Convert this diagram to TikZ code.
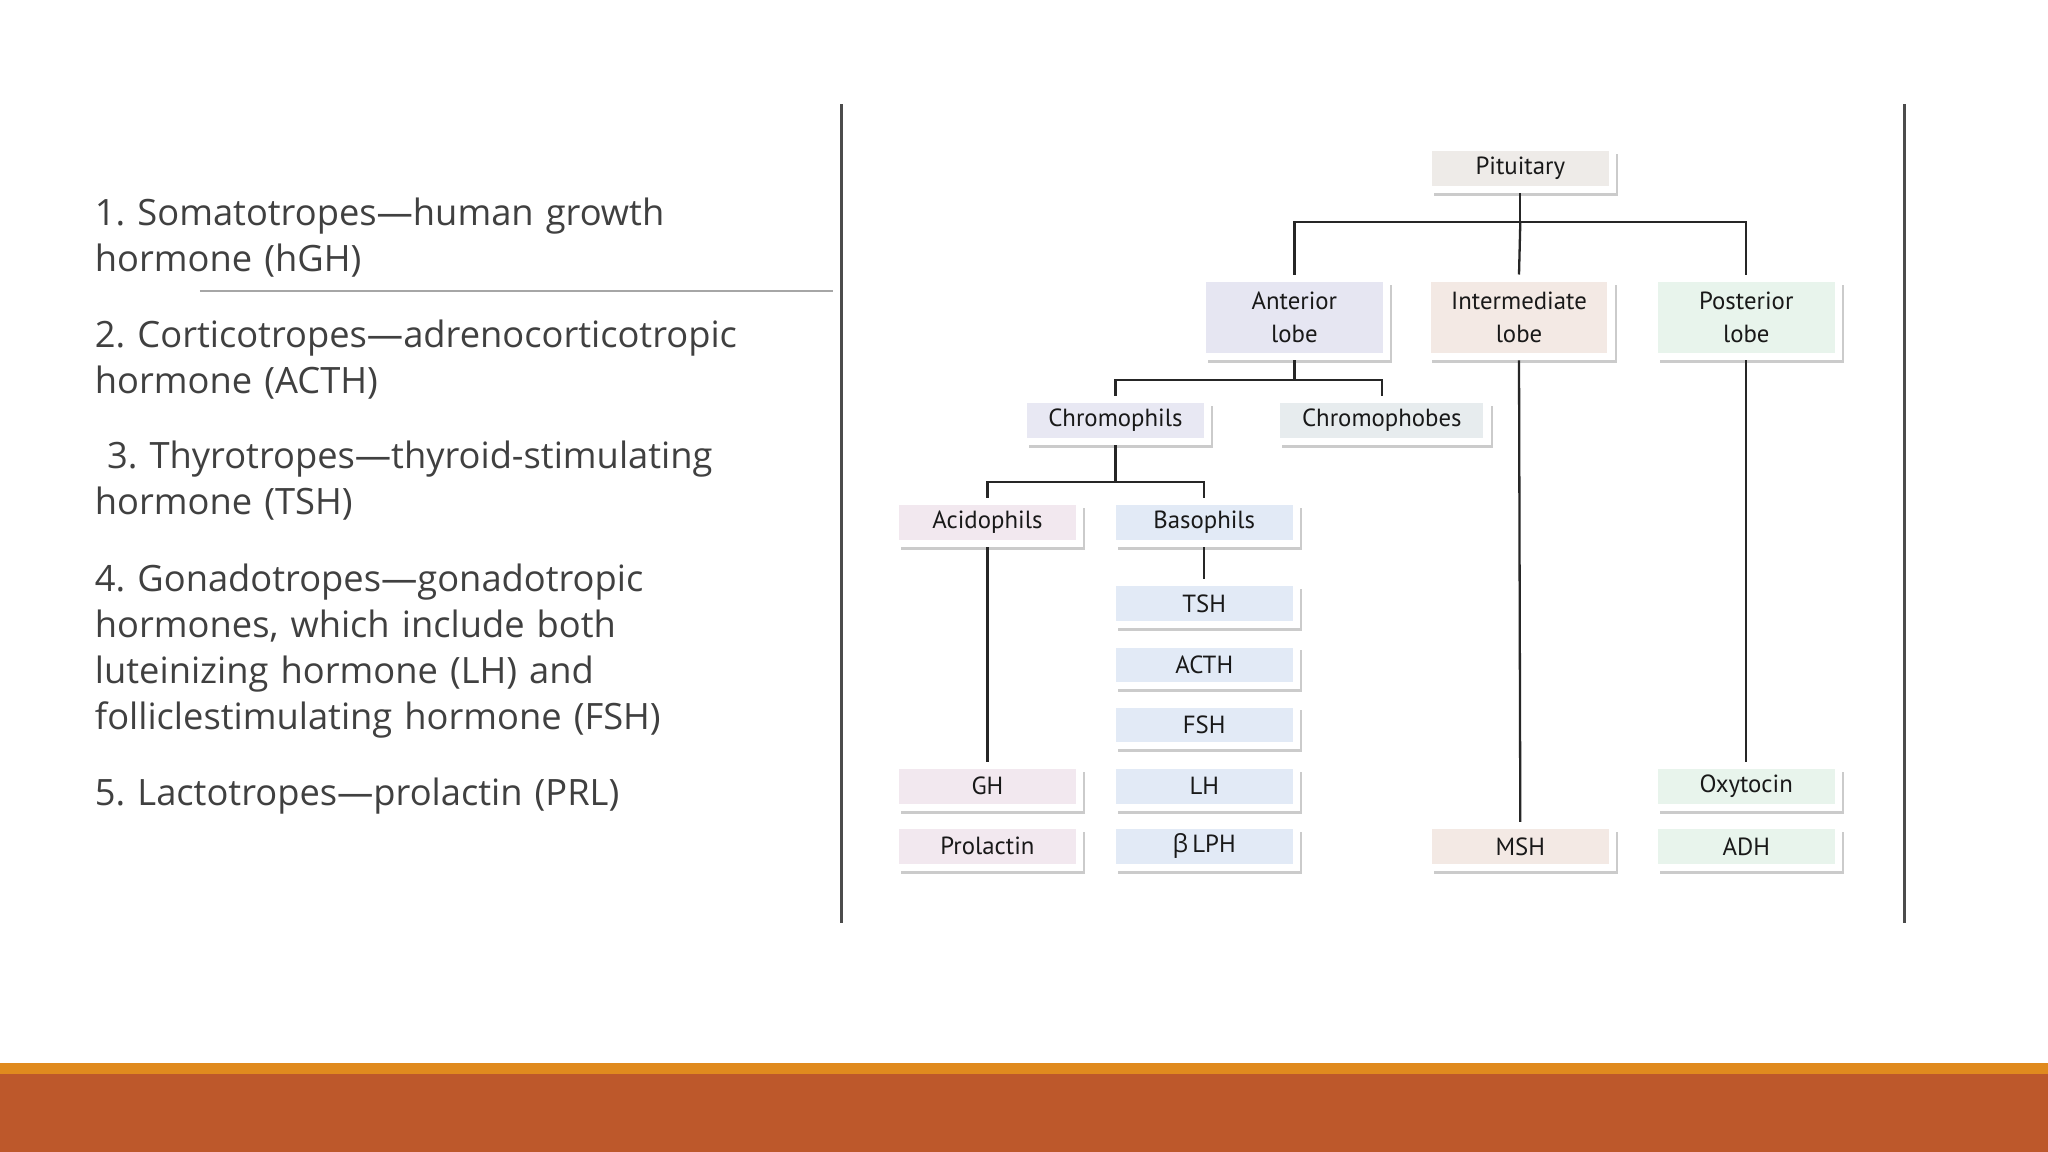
\documentclass[tikz,border=0pt]{standalone}
\usepackage{fontspec}
\setmainfont{Open Sans}
\newfontfamily\boxfont{PT Sans}
\usetikzlibrary{shadows}
\definecolor{cPit}{HTML}{EEEBE8}
\definecolor{cAnt}{HTML}{E6E6F2}
\definecolor{cInt}{HTML}{F3E9E4}
\definecolor{cPos}{HTML}{E8F4EC}
\definecolor{cCph}{HTML}{E8E8F3}
\definecolor{cCpb}{HTML}{E7ECEE}
\definecolor{cAci}{HTML}{F2E8EF}
\definecolor{cBas}{HTML}{E2EAF6}
\definecolor{txt}{HTML}{404040}
\definecolor{orangeS}{HTML}{E08A1E}
\definecolor{rust}{HTML}{BD582B}
\tikzset{
 bx/.style={draw=white, line width=1.6pt, minimum width=1.41cm, minimum height=0.32cm,
  inner sep=0pt, align=center, text=black!90, font=\boxfont\fontsize{5.4}{7}\selectfont,
  drop shadow={opacity=0.45, fill=black!45, shadow xshift=1.2pt, shadow yshift=-1.4pt}},
 tall/.style={minimum height=0.60cm},
 ln/.style={draw=black!85, line width=0.5pt},
 item/.style={anchor=north west, align=left, text width=5.4cm, text=txt,
  font=\fontsize{7.9}{10}\selectfont, inner sep=0pt}
}
\frenchspacing
\begin{document}
\begin{tikzpicture}[x=0.01cm,y=-0.01cm]
\useasboundingbox (0,0) rectangle (1568,882);
\fill[white] (0,0) rectangle (1568,882);
\fill[orangeS] (0,814) rectangle (1568,823);
\fill[rust] (0,822) rectangle (1568,882);
\draw[black!70, line width=0.6pt] (644,80) -- (644,707);
\draw[black!70, line width=0.6pt] (1458,80) -- (1458,707);
\draw[black!35, line width=0.4pt] (153,223) -- (638,223);
% left text
\node[item] (t1) at (72,151) {1. Somatotropes—human growth\\hormone (hGH)};
\node[item] (t2) at (72,244) {2. Corticotropes—adrenocorticotropic\\hormone (ACTH)};
\node[item] (t3) at (72,337) {\ 3. Thyrotropes—thyroid-stimulating\\hormone (TSH)};
\node[item] (t4) at (72,431) {4. Gonadotropes—gonadotropic\\hormones, which include both\\luteinizing hormone (LH) and\\folliclestimulating hormone (FSH)};
\node[item] (t5) at (72,595) {5. Lactotropes—prolactin (PRL)};
% boxes
\node[bx, fill=cPit] (pit) at (1164,129) {Pituitary};
\node[bx, tall, fill=cAnt] (ant) at (991,243) {Anterior\\lobe};
\node[bx, tall, fill=cInt] (int) at (1163,243) {Intermediate\\lobe};
\node[bx, tall, fill=cPos] (pos) at (1337,243) {Posterior\\lobe};
\node[bx, fill=cCph] (cph) at (854,322) {Chromophils};
\node[bx, fill=cCpb, minimum width=1.61cm] (cpb) at (1058,322) {Chromophobes};
\node[bx, fill=cAci] (aci) at (756,400) {Acidophils};
\node[bx, fill=cBas] (bas) at (922,400) {Basophils};
\node[bx, fill=cBas] (tsh) at (922,462) {TSH};
\node[bx, fill=cBas] (acth) at (922,509) {ACTH};
\node[bx, fill=cBas] (fsh) at (922,555) {FSH};
\node[bx, fill=cBas] (lh) at (922,602) {LH};
\node[bx, fill=cBas] (lph) at (922,648) {{\rmfamily β}\,LPH};
\node[bx, fill=cAci] (gh) at (756,602) {GH};
\node[bx, fill=cAci] (prl) at (756,648) {Prolactin};
\node[bx, fill=cInt] (msh) at (1164,648) {MSH};
\node[bx, fill=cPos] (oxy) at (1337,602) {Oxytocin};
\node[bx, fill=cPos] (adh) at (1337,648) {ADH};
% connectors
\coordinate (j1) at (1164,170);
\draw[ln] (pit.south) -- (j1);
\draw[ln] (ant.north) |- (j1);
\draw[ln] (pos.north) |- (j1);
\draw[ln] (j1) -- (int.north);
\coordinate (j2) at (991,291);
\draw[ln] (ant.south) -- (j2);
\draw[ln] (cph.north) |- (j2) -| (cpb.north);
\coordinate (j3) at (854,369);
\draw[ln] (cph.south) -- (j3);
\draw[ln] (aci.north) |- (j3) -| (bas.north);
\draw[ln] (aci.south) -- (gh.north);
\draw[ln] (bas.south) -- (tsh.north);
\draw[ln] (int.south) -- (msh.north);
\draw[ln] (pos.south) -- (oxy.north);
\end{tikzpicture}
\end{document}
